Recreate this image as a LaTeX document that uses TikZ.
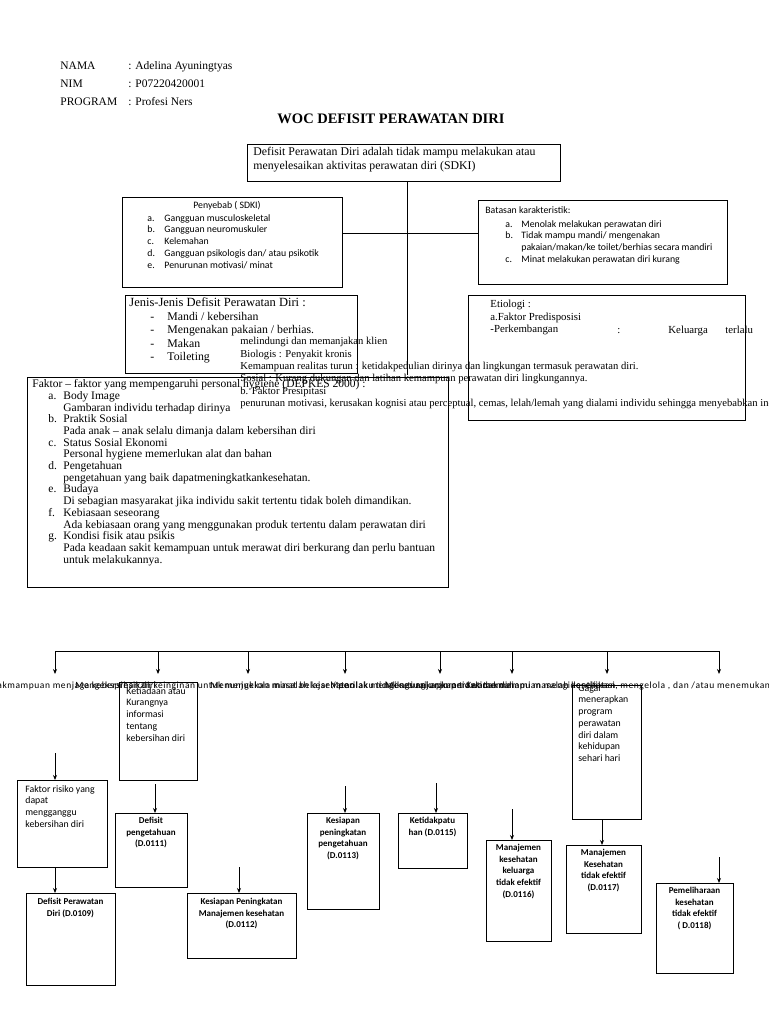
\documentclass[tikz,border=0pt]{standalone}
\usepackage{fontspec}
\setmainfont{Liberation Serif}
\newfontfamily\calibri{Carlito}
\newfontfamily\rowfont[LetterSpace=6]{Carlito}
\usetikzlibrary{positioning,arrows.meta}

\tikzset{
  box/.style={draw, line width=0.9pt, inner sep=0pt, anchor=north west},
  serif/.style={font=\fontsize{10}{11.7}\selectfont, align=left, inner sep=0pt, anchor=north west},
  hdr/.style={anchor=base west, inner sep=0pt, font=\fontsize{11.5}{13}\selectfont},
  cal/.style={font=\calibri\fontsize{9.8}{11.7}\selectfont, align=left, inner sep=0pt, anchor=north west},
  calb/.style={font=\calibri\bfseries\fontsize{9}{11.6}\selectfont, align=center, inner sep=0pt, anchor=north},
  rowtext/.style={font=\rowfont\fontsize{9.5}{11}\selectfont, inner sep=0pt, anchor=base west},
  >={Stealth[length=5pt,width=4pt]}
}
\newcommand{\itm}[2]{\makebox[#1][l]{#2}}

\begin{document}
\begin{tikzpicture}[x=1pt, y=-1pt, line width=0.8pt]
    \useasboundingbox (0,0) rectangle (768,1024);
    % Header
    \node [hdr] (nama) at (60,70) {NAMA};
    \node [hdr] (namav) at (128,70) {: Adelina Ayuningtyas};
    \node [hdr] (nim) at (60,88) {NIM};
    \node [hdr] (nimv) at (128,88) {: P07220420001};
    \node [hdr] (prog) at (60,106) {PROGRAM};
    \node [hdr] (progv) at (128,106) {: Profesi Ners};
    \node [anchor=base, inner sep=0pt, font=\bfseries\fontsize{14.5}{16}\selectfont] (title) at (391,124) {WOC DEFISIT PERAWATAN DIRI};

    % Definition
    \node [box, minimum width=313pt, minimum height=37pt] (defbox) at (247,144) {};
    \node [serif, font=\fontsize{11.8}{14}\selectfont] (deftext) at (253,147)
      {Defisit Perawatan Diri adalah tidak mampu melakukan atau\\menyelesaikan aktivitas perawatan diri (SDKI)};

    % Penyebab and Batasan karakteristik
    \node [box, minimum width=220pt, minimum height=90pt] (penyebab) at (122,197) {};
    \node [anchor=north, inner sep=0pt, font=\calibri\fontsize{9.8}{11}\selectfont] (penyebabt) at (227,201) {Penyebab ( SDKI)};
    \node [cal] (penyebabl) at (147,214)
      {\itm{17pt}{a.}Gangguan musculoskeletal\\
       \itm{17pt}{b.}Gangguan neuromuskuler\\
       \itm{17pt}{c.}Kelemahan\\
       \itm{17pt}{d.}Gangguan psikologis dan/ atau psikotik\\
       \itm{17pt}{e.}Penurunan motivasi/ minat};
    \node [box, minimum width=249pt, minimum height=84pt] (batasan) at (478,200) {};
    \node [cal] (batasant) at (485,206) {Batasan karakteristik:};
    \node [cal] (batasanl) at (505,220)
      {\itm{16pt}{a.}Menolak melakukan perawatan diri\\
       \itm{16pt}{b.}Tidak mampu mandi/ mengenakan\\
       \hspace*{16pt}pakaian/makan/ke toilet/berhias secara mandiri\\
       \itm{16pt}{c.}Minat melakukan perawatan diri kurang};
    \coordinate (spine) at (407,375);
    \coordinate (cross) at (407,233);
    \draw (defbox.south -| spine) -- (spine);
    \draw (penyebab.east |- cross) -- (batasan.west |- cross);

    % Jenis-jenis and Etiologi
    \node [box, minimum width=232pt, minimum height=78pt] (jenis) at (125,295) {};
    \node [serif, font=\fontsize{12.5}{13}\selectfont] (jenist) at (129,297) {Jenis-Jenis Defisit Perawatan Diri :};
    \node [serif, font=\fontsize{11.8}{13.3}\selectfont] (jenisl) at (150,312)
      {\itm{17pt}{-}Mandi / kebersihan\\
       \itm{17pt}{-}Mengenakan pakaian / berhias.\\
       \itm{17pt}{-}Makan\\
       \itm{17pt}{-}Toileting};
    \node [box, minimum width=277pt, minimum height=125pt] (etiologi) at (468,295) {};
    \node [serif, font=\fontsize{10.8}{12.4}\selectfont] (etiot) at (490,300)
      {Etiologi :\\a.Faktor Predisposisi\\-Perkembangan};
    \node [anchor=base west, inner sep=0pt, font=\fontsize{10.8}{12}\selectfont] (etio1) at (617,333) {:};
    \node [anchor=base west, inner sep=0pt, font=\fontsize{10.8}{12}\selectfont] (etio2) at (668,333) {Keluarga};
    \node [anchor=base west, inner sep=0pt, font=\fontsize{10.8}{12}\selectfont] (etio3) at (725,333) {terlalu};
    \node [serif, font=\fontsize{10.6}{12.4}\selectfont] (etiorest) at (240,337)
      {melindungi dan memanjakan klien\\
       Biologis : Penyakit kronis\\
       Kemampuan realitas turun : ketidakpedulian dirinya dan lingkungan termasuk perawatan diri.\\
       Sosial : Kurang dukungan dan latihan kemampuan perawatan diri lingkungannya.\\
       b. Faktor Presipitasi\\
       penurunan motivasi, kerusakan kognisi atau perceptual, cemas, lelah/lemah yang dialami individu sehingga menyebabkan individu kurang mampu};

    % Faktor-faktor personal hygiene
    \node [box, minimum width=421pt, minimum height=210pt] (faktor) at (27,377) {};
    \node [serif, font=\fontsize{11.5}{11.7}\selectfont] (faktort) at (32,379)
      {Faktor -- faktor yang mempengaruhi personal hygiene (DEPKES 2000) :};
    \node [serif, font=\fontsize{11.5}{11.7}\selectfont] (faktorl) at (48,391)
      {\itm{15pt}{a.}Body Image\\
       \hspace*{15pt}Gambaran individu terhadap dirinya\\
       \itm{15pt}{b.}Praktik Sosial\\
       \hspace*{15pt}Pada anak -- anak selalu dimanja dalam kebersihan diri\\
       \itm{15pt}{c.}Status Sosial Ekonomi\\
       \hspace*{15pt}Personal hygiene memerlukan alat dan bahan\\
       \itm{15pt}{d.}Pengetahuan\\
       \hspace*{15pt}pengetahuan yang baik dapatmeningkatkankesehatan.\\
       \itm{15pt}{e.}Budaya\\
       \hspace*{15pt}Di sebagian masyarakat jika individu sakit tertentu tidak boleh dimandikan.\\
       \itm{15pt}{f.}Kebiasaan seseorang\\
       \hspace*{15pt}Ada kebiasaan orang yang menggunakan produk tertentu dalam perawatan diri\\
       \itm{15pt}{g.}Kondisi fisik atau psikis\\
       \hspace*{15pt}Pada keadaan sakit kemampuan untuk merawat diri berkurang dan perlu bantuan\\
       \hspace*{15pt}untuk melakukannya.};

    % Branch line with arrows
    \draw (55,651) -- (719,651);
    \foreach \x [count=\i] in {55,158,248,345,440,512,607,719} {
      \coordinate (top\i) at (\x,651);
      \coordinate (tip\i) at (\x,674);
      \draw [->] (top\i) -- (tip\i);
    }
    \node [rowtext] (row1) at (-25,688) {Ketidakmampuan menjaga kebersihan diri};
    \node [rowtext] (row2) at (75,688) {Mengekspresikan keinginan untuk mengelola masalah kesehatan};
    \node [rowtext] (row3) at (210,688) {Menunjukkan minat belajar / perilaku tidak sesuai anjuran};
    \node [rowtext] (row4) at (330,688) {Menolak mengikuti anjuran perawatan diri};
    \node [rowtext] (row5) at (385,688) {Mengungkapkan tidak memahami masalah kesehatan};
    \node [rowtext] (row6) at (466,688) {Ketidakmampuan mengidentifikasi, mengelola , dan /atau menemukan bantuan};

    % Diagnosis boxes
    \node [box, minimum width=78pt, minimum height=98pt] (ketiadaan) at (119,682) {};
    \node [cal] (ketiadaant) at (126,687) {Ketiadaan atau\\Kurangnya\\informasi\\tentang\\kebersihan diri};
    \node [box, minimum width=90pt, minimum height=87pt] (risiko) at (17,780) {};
    \node [cal] (risikot) at (25,785) {Faktor risiko yang\\dapat\\mengganggu\\kebersihan diri};
    \node [box, minimum width=69pt, minimum height=134pt] (gagal) at (572,685) {};
    \node [cal] (gagalt) at (578,684) {Gagal\\menerapkan\\program\\perawatan\\diri dalam\\kehidupan\\sehari hari};

    \node [box, minimum width=89pt, minimum height=92pt] (d0109) at (26,893) {};
    \node [calb] at (70.5,898) {Defisit Perawatan\\Diri (D.0109)};
    \node [box, minimum width=72pt, minimum height=74pt] (d0111) at (115,813) {};
    \node [calb] at (151,817) {Defisit\\pengetahuan\\(D.0111)};
    \node [box, minimum width=109pt, minimum height=65pt] (d0112) at (187,893) {};
    \node [calb] at (241.5,898) {Kesiapan Peningkatan\\Manajemen kesehatan\\(D.0112)};
    \node [box, minimum width=72pt, minimum height=96pt] (d0113) at (307,813) {};
    \node [calb] at (343,817) {Kesiapan\\peningkatan\\pengetahuan\\(D.0113)};
    \node [box, minimum width=69pt, minimum height=55pt] (d0115) at (398,813) {};
    \node [calb] at (432.5,817) {Ketidakpatu\\han (D.0115)};
    \node [box, minimum width=65pt, minimum height=101pt] (d0116) at (486,840) {};
    \node [calb] at (518.5,844) {Manajemen\\kesehatan\\keluarga\\tidak efektif\\(D.0116)};
    \node [box, minimum width=75pt, minimum height=88pt] (d0117) at (566,845) {};
    \node [calb] at (603.5,849) {Manajemen\\Kesehatan\\tidak efektif\\(D.0117)};
    \node [box, minimum width=77pt, minimum height=90pt] (d0118) at (656,883) {};
    \node [calb] at (694.5,887) {Pemeliharaan\\kesehatan\\tidak efektif\\( D.0118)};

    % Stub arrows into the boxes
    \coordinate (s1) at (55,753);
    \coordinate (s2) at (55,867);
    \coordinate (s3) at (155,784);
    \coordinate (s4) at (239,867);
    \coordinate (s5) at (345,786);
    \coordinate (s6) at (436,783);
    \coordinate (s7) at (512,809);
    \coordinate (s8) at (602,819);
    \coordinate (s9) at (719,857);
    \draw [->] (s1) -- (s1 |- risiko.north);
    \draw [->] (s2) -- (s2 |- d0109.north);
    \draw [->] (s3) -- (s3 |- d0111.north);
    \draw [->] (s4) -- (s4 |- d0112.north);
    \draw [->] (s5) -- (s5 |- d0113.north);
    \draw [->] (s6) -- (s6 |- d0115.north);
    \draw [->] (s7) -- (s7 |- d0116.north);
    \draw [->] (s8) -- (s8 |- d0117.north);
    \draw [->] (s9) -- (s9 |- d0118.north);
\end{tikzpicture}
\end{document}
